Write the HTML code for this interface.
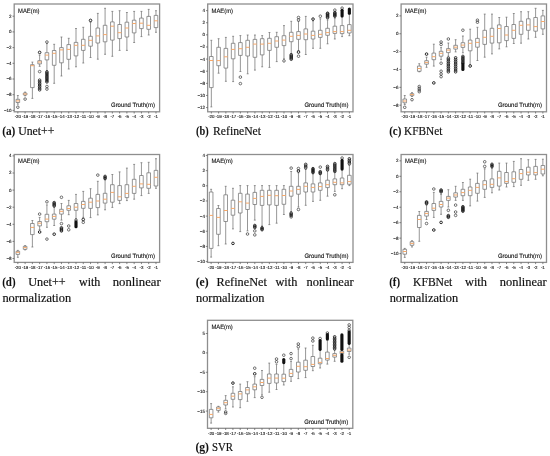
<!DOCTYPE html>
<html><head><meta charset="utf-8"><title>MAE boxplots</title>
<style>
html,body{margin:0;padding:0;background:#fff;}
body{width:550px;height:456px;overflow:hidden;}
svg{display:block;}
.fr{fill:none;stroke:#8e8e8e;stroke-width:1.3;}
.tk{stroke:#555;stroke-width:0.7;}
.yl{font-family:"Liberation Sans",Arial,sans-serif;font-size:4.5px;fill:#1a1a1a;stroke:#1a1a1a;stroke-width:0.12px;text-anchor:end;text-rendering:geometricPrecision;}
.xl{font-family:"Liberation Sans",Arial,sans-serif;font-size:4.4px;fill:#1a1a1a;stroke:#1a1a1a;stroke-width:0.12px;text-anchor:middle;text-rendering:geometricPrecision;}
.lb{font-family:"Liberation Sans",Arial,sans-serif;font-size:6.3px;fill:#111;stroke:#111;stroke-width:0.12px;text-rendering:geometricPrecision;}
.bx{fill:none;stroke:#6e6e6e;stroke-width:0.72;}
.md{fill:none;stroke:#f8a868;stroke-width:1.0;}
.oc{fill:none;stroke:#2a2a2a;stroke-width:0.65;}
.fc{fill:none;stroke:#1e1e1e;stroke-width:0.95;}
.rc{fill:none;stroke:#1a1a1a;stroke-width:0.85;}
.dc{fill:none;stroke:#111;stroke-width:3.15;stroke-linecap:round;}
.cp{font-family:"Liberation Serif","Times New Roman",serif;font-size:12px;fill:#111;stroke:#111;stroke-width:0.18px;}
.cp.b{stroke-width:0.05px;}
.cp.b{font-weight:bold;}
</style></head>
<body>
<svg width="550" height="456" viewBox="0 0 550 456">
<rect width="550" height="456" fill="#fff"/>
<rect x="14.2" y="4" width="145.4" height="107.8" class="fr"/>
<line x1="12.5" y1="16.2" x2="14.2" y2="16.2" class="tk"/>
<text x="11.6" y="17.65" class="yl">2</text>
<line x1="12.5" y1="31.9" x2="14.2" y2="31.9" class="tk"/>
<text x="11.6" y="33.35" class="yl">0</text>
<line x1="12.5" y1="47.6" x2="14.2" y2="47.6" class="tk"/>
<text x="11.6" y="49.05" class="yl">−2</text>
<line x1="12.5" y1="63.3" x2="14.2" y2="63.3" class="tk"/>
<text x="11.6" y="64.75" class="yl">−4</text>
<line x1="12.5" y1="79" x2="14.2" y2="79" class="tk"/>
<text x="11.6" y="80.45" class="yl">−6</text>
<line x1="12.5" y1="94.7" x2="14.2" y2="94.7" class="tk"/>
<text x="11.6" y="96.15" class="yl">−8</text>
<line x1="12.5" y1="110.4" x2="14.2" y2="110.4" class="tk"/>
<text x="11.6" y="111.85" class="yl">−10</text>
<line x1="17.84" y1="111.8" x2="17.84" y2="113.5" class="tk"/>
<text x="17.84" y="118" class="xl">-20</text>
<line x1="25.11" y1="111.8" x2="25.11" y2="113.5" class="tk"/>
<text x="25.11" y="118" class="xl">-19</text>
<line x1="32.38" y1="111.8" x2="32.38" y2="113.5" class="tk"/>
<text x="32.38" y="118" class="xl">-18</text>
<line x1="39.64" y1="111.8" x2="39.64" y2="113.5" class="tk"/>
<text x="39.64" y="118" class="xl">-17</text>
<line x1="46.92" y1="111.8" x2="46.92" y2="113.5" class="tk"/>
<text x="46.92" y="118" class="xl">-16</text>
<line x1="54.19" y1="111.8" x2="54.19" y2="113.5" class="tk"/>
<text x="54.19" y="118" class="xl">-15</text>
<line x1="61.45" y1="111.8" x2="61.45" y2="113.5" class="tk"/>
<text x="61.45" y="118" class="xl">-14</text>
<line x1="68.73" y1="111.8" x2="68.73" y2="113.5" class="tk"/>
<text x="68.73" y="118" class="xl">-13</text>
<line x1="76" y1="111.8" x2="76" y2="113.5" class="tk"/>
<text x="76" y="118" class="xl">-12</text>
<line x1="83.27" y1="111.8" x2="83.27" y2="113.5" class="tk"/>
<text x="83.27" y="118" class="xl">-11</text>
<line x1="90.54" y1="111.8" x2="90.54" y2="113.5" class="tk"/>
<text x="90.54" y="118" class="xl">-10</text>
<line x1="97.81" y1="111.8" x2="97.81" y2="113.5" class="tk"/>
<text x="97.81" y="118" class="xl">-9</text>
<line x1="105.08" y1="111.8" x2="105.08" y2="113.5" class="tk"/>
<text x="105.08" y="118" class="xl">-8</text>
<line x1="112.35" y1="111.8" x2="112.35" y2="113.5" class="tk"/>
<text x="112.35" y="118" class="xl">-7</text>
<line x1="119.62" y1="111.8" x2="119.62" y2="113.5" class="tk"/>
<text x="119.62" y="118" class="xl">-6</text>
<line x1="126.89" y1="111.8" x2="126.89" y2="113.5" class="tk"/>
<text x="126.89" y="118" class="xl">-5</text>
<line x1="134.16" y1="111.8" x2="134.16" y2="113.5" class="tk"/>
<text x="134.16" y="118" class="xl">-4</text>
<line x1="141.43" y1="111.8" x2="141.43" y2="113.5" class="tk"/>
<text x="141.43" y="118" class="xl">-3</text>
<line x1="148.69" y1="111.8" x2="148.69" y2="113.5" class="tk"/>
<text x="148.69" y="118" class="xl">-2</text>
<line x1="155.97" y1="111.8" x2="155.97" y2="113.5" class="tk"/>
<text x="155.97" y="118" class="xl">-1</text>
<text x="18.1" y="12.6" class="lb" textLength="21.4" lengthAdjust="spacingAndGlyphs">MAE(m)</text>
<text x="111" y="107.3" class="lb" textLength="44.0" lengthAdjust="spacingAndGlyphs">Ground Truth(m)</text>
<path d="M17.84 99.3V95.5M17.84 102.5V104.2M16.89 95.5H18.79M16.89 104.2H18.79M16.04 99.3H19.64V102.5H16.04Z" class="bx"/>
<path d="M16.04 100.9H19.64" class="md"/>
<circle cx="17.84" cy="107.2" r="1.3" class="oc"/>
<path d="M25.11 93V92.1M25.11 95V95.8M24.16 92.1H26.05M24.16 95.8H26.05M23.3 93H26.91V95H23.3Z" class="bx"/>
<path d="M23.3 94H26.91" class="md"/>
<circle cx="25.11" cy="99.1" r="1.3" class="oc"/>
<path d="M32.38 64.7V62.1M32.38 87.6V98.4M31.43 62.1H33.33M31.43 98.4H33.33M30.57 64.7H34.17V87.6H30.57Z" class="bx"/>
<path d="M30.57 65.7H34.17" class="md"/>
<path d="M39.64 60.7V55M39.64 63.9V66.3M38.69 55H40.59M38.69 66.3H40.59M37.84 60.7H41.44V63.9H37.84Z" class="bx"/>
<path d="M37.84 62H41.44" class="md"/>
<circle cx="39.64" cy="52.4" r="1.3" class="fc"/>
<circle cx="39.64" cy="71.6" r="1.3" class="oc"/>
<circle cx="39.64" cy="80.2" r="1.3" class="rc"/>
<circle cx="39.64" cy="81.8" r="1.3" class="rc"/>
<circle cx="39.64" cy="83.4" r="1.3" class="rc"/>
<circle cx="39.64" cy="85" r="1.3" class="rc"/>
<circle cx="39.64" cy="86.6" r="1.3" class="rc"/>
<circle cx="39.64" cy="88.2" r="1.3" class="rc"/>
<circle cx="39.64" cy="89.8" r="1.3" class="rc"/>
<path d="M46.92 52.7V43.6M46.92 59.9V70.7M45.97 43.6H47.87M45.97 70.7H47.87M45.12 52.7H48.72V59.9H45.12Z" class="bx"/>
<path d="M45.12 55.1H48.72" class="md"/>
<circle cx="46.92" cy="42" r="1.3" class="oc"/>
<circle cx="46.92" cy="71.9" r="1.3" class="rc"/>
<circle cx="46.92" cy="73.15" r="1.3" class="rc"/>
<circle cx="46.92" cy="74.4" r="1.3" class="rc"/>
<circle cx="46.92" cy="75.65" r="1.3" class="rc"/>
<circle cx="46.92" cy="76.9" r="1.3" class="rc"/>
<circle cx="46.92" cy="78.15" r="1.3" class="rc"/>
<circle cx="46.92" cy="79.4" r="1.3" class="rc"/>
<circle cx="46.92" cy="80.65" r="1.3" class="rc"/>
<circle cx="46.92" cy="81.9" r="1.3" class="rc"/>
<circle cx="46.92" cy="86.5" r="1.3" class="oc"/>
<circle cx="46.92" cy="89.1" r="1.3" class="oc"/>
<path d="M54.19 50.5V44.3M54.19 65.3V83.3M53.23 44.3H55.14M53.23 83.3H55.14M52.39 50.5H55.98V65.3H52.39Z" class="bx"/>
<path d="M52.39 53.3H55.98" class="md"/>
<path d="M61.45 47.6V37M61.45 62.8V76M60.5 37H62.41M60.5 76H62.41M59.66 47.6H63.25V62.8H59.66Z" class="bx"/>
<path d="M59.66 49.9H63.25" class="md"/>
<path d="M68.73 44.6V38.3M68.73 59.3V69M67.78 38.3H69.68M67.78 69H69.68M66.93 44.6H70.53V59.3H66.93Z" class="bx"/>
<path d="M66.93 49.4H70.53" class="md"/>
<path d="M76 42.4V28.5M76 55.9V66.8M75.05 28.5H76.95M75.05 66.8H76.95M74.2 42.4H77.8V55.9H74.2Z" class="bx"/>
<path d="M74.2 45.3H77.8" class="md"/>
<path d="M83.27 39.3V27.3M83.27 50.4V63M82.31 27.3H84.22M82.31 63H84.22M81.47 39.3H85.06V50.4H81.47Z" class="bx"/>
<path d="M81.47 45.3H85.06" class="md"/>
<path d="M90.54 36.3V22.2M90.54 46.2V57.5M89.59 22.2H91.49M89.59 57.5H91.49M88.74 36.3H92.34V46.2H88.74Z" class="bx"/>
<path d="M88.74 40.3H92.34" class="md"/>
<circle cx="90.54" cy="20.4" r="1.3" class="fc"/>
<path d="M97.81 28V13.4M97.81 43V59.2M96.86 13.4H98.76M96.86 59.2H98.76M96.01 28H99.61V43H96.01Z" class="bx"/>
<path d="M96.01 35.9H99.61" class="md"/>
<path d="M105.08 25.3V8.3M105.08 41.8V54.3M104.12 8.3H106.03M104.12 54.3H106.03M103.28 25.3H106.88V41.8H103.28Z" class="bx"/>
<path d="M103.28 34.6H106.88" class="md"/>
<path d="M112.35 21.9V11.4M112.35 40.1V56.3M111.4 11.4H113.3M111.4 56.3H113.3M110.55 21.9H114.15V40.1H110.55Z" class="bx"/>
<path d="M110.55 26.2H114.15" class="md"/>
<path d="M119.62 24.5V10.7M119.62 38.6V50.4M118.67 10.7H120.57M118.67 50.4H120.57M117.82 24.5H121.42V38.6H117.82Z" class="bx"/>
<path d="M117.82 32.7H121.42" class="md"/>
<path d="M126.89 22.2V12.5M126.89 37V50.4M125.94 12.5H127.84M125.94 50.4H127.84M125.09 22.2H128.69V37H125.09Z" class="bx"/>
<path d="M125.09 28H128.69" class="md"/>
<path d="M134.16 20.2V11.4M134.16 32.9V42.5M133.21 11.4H135.1M133.21 42.5H135.1M132.35 20.2H135.96V32.9H132.35Z" class="bx"/>
<path d="M132.35 23.5H135.96" class="md"/>
<path d="M141.43 18.1V11.4M141.43 28.6V36.6M140.48 11.4H142.38M140.48 36.6H142.38M139.62 18.1H143.23V28.6H139.62Z" class="bx"/>
<path d="M139.62 23.2H143.23" class="md"/>
<path d="M148.69 16.4V9.4M148.69 29.3V35M147.75 9.4H149.64M147.75 35H149.64M146.89 16.4H150.5V29.3H146.89Z" class="bx"/>
<path d="M146.89 25.3H150.5" class="md"/>
<path d="M155.97 15.4V10.7M155.97 27.6V32.3M155.02 10.7H156.91M155.02 32.3H156.91M154.16 15.4H157.77V27.6H154.16Z" class="bx"/>
<path d="M154.16 20.8H157.77" class="md"/>
<rect x="207.7" y="4" width="145.3" height="107.8" class="fr"/>
<line x1="206" y1="10.61" x2="207.7" y2="10.61" class="tk"/>
<text x="205.1" y="12.06" class="yl">4</text>
<line x1="206" y1="22.73" x2="207.7" y2="22.73" class="tk"/>
<text x="205.1" y="24.18" class="yl">2</text>
<line x1="206" y1="34.85" x2="207.7" y2="34.85" class="tk"/>
<text x="205.1" y="36.3" class="yl">0</text>
<line x1="206" y1="46.97" x2="207.7" y2="46.97" class="tk"/>
<text x="205.1" y="48.42" class="yl">−2</text>
<line x1="206" y1="59.09" x2="207.7" y2="59.09" class="tk"/>
<text x="205.1" y="60.54" class="yl">−4</text>
<line x1="206" y1="71.21" x2="207.7" y2="71.21" class="tk"/>
<text x="205.1" y="72.66" class="yl">−6</text>
<line x1="206" y1="83.33" x2="207.7" y2="83.33" class="tk"/>
<text x="205.1" y="84.78" class="yl">−8</text>
<line x1="206" y1="95.45" x2="207.7" y2="95.45" class="tk"/>
<text x="205.1" y="96.9" class="yl">−10</text>
<line x1="206" y1="107.57" x2="207.7" y2="107.57" class="tk"/>
<text x="205.1" y="109.02" class="yl">−12</text>
<line x1="211.33" y1="111.8" x2="211.33" y2="113.5" class="tk"/>
<text x="211.33" y="118" class="xl">-20</text>
<line x1="218.6" y1="111.8" x2="218.6" y2="113.5" class="tk"/>
<text x="218.6" y="118" class="xl">-19</text>
<line x1="225.86" y1="111.8" x2="225.86" y2="113.5" class="tk"/>
<text x="225.86" y="118" class="xl">-18</text>
<line x1="233.13" y1="111.8" x2="233.13" y2="113.5" class="tk"/>
<text x="233.13" y="118" class="xl">-17</text>
<line x1="240.39" y1="111.8" x2="240.39" y2="113.5" class="tk"/>
<text x="240.39" y="118" class="xl">-16</text>
<line x1="247.66" y1="111.8" x2="247.66" y2="113.5" class="tk"/>
<text x="247.66" y="118" class="xl">-15</text>
<line x1="254.92" y1="111.8" x2="254.92" y2="113.5" class="tk"/>
<text x="254.92" y="118" class="xl">-14</text>
<line x1="262.19" y1="111.8" x2="262.19" y2="113.5" class="tk"/>
<text x="262.19" y="118" class="xl">-13</text>
<line x1="269.45" y1="111.8" x2="269.45" y2="113.5" class="tk"/>
<text x="269.45" y="118" class="xl">-12</text>
<line x1="276.72" y1="111.8" x2="276.72" y2="113.5" class="tk"/>
<text x="276.72" y="118" class="xl">-11</text>
<line x1="283.98" y1="111.8" x2="283.98" y2="113.5" class="tk"/>
<text x="283.98" y="118" class="xl">-10</text>
<line x1="291.25" y1="111.8" x2="291.25" y2="113.5" class="tk"/>
<text x="291.25" y="118" class="xl">-9</text>
<line x1="298.51" y1="111.8" x2="298.51" y2="113.5" class="tk"/>
<text x="298.51" y="118" class="xl">-8</text>
<line x1="305.78" y1="111.8" x2="305.78" y2="113.5" class="tk"/>
<text x="305.78" y="118" class="xl">-7</text>
<line x1="313.04" y1="111.8" x2="313.04" y2="113.5" class="tk"/>
<text x="313.04" y="118" class="xl">-6</text>
<line x1="320.31" y1="111.8" x2="320.31" y2="113.5" class="tk"/>
<text x="320.31" y="118" class="xl">-5</text>
<line x1="327.57" y1="111.8" x2="327.57" y2="113.5" class="tk"/>
<text x="327.57" y="118" class="xl">-4</text>
<line x1="334.84" y1="111.8" x2="334.84" y2="113.5" class="tk"/>
<text x="334.84" y="118" class="xl">-3</text>
<line x1="342.1" y1="111.8" x2="342.1" y2="113.5" class="tk"/>
<text x="342.1" y="118" class="xl">-2</text>
<line x1="349.37" y1="111.8" x2="349.37" y2="113.5" class="tk"/>
<text x="349.37" y="118" class="xl">-1</text>
<text x="211.6" y="12.6" class="lb" textLength="21.4" lengthAdjust="spacingAndGlyphs">MAE(m)</text>
<text x="304.4" y="107.3" class="lb" textLength="44.0" lengthAdjust="spacingAndGlyphs">Ground Truth(m)</text>
<path d="M211.33 56.5V40.3M211.33 87.6V106.9M210.38 40.3H212.28M210.38 106.9H212.28M209.53 56.5H213.13V87.6H209.53Z" class="bx"/>
<path d="M209.53 60.5H213.13" class="md"/>
<path d="M218.6 47.3V38.7M218.6 65.7V73.2M217.65 38.7H219.55M217.65 73.2H219.55M216.8 47.3H220.4V65.7H216.8Z" class="bx"/>
<path d="M216.8 60.6H220.4" class="md"/>
<path d="M225.86 48.4V37.4M225.86 68.1V81.3M224.91 37.4H226.81M224.91 81.3H226.81M224.06 48.4H227.66V68.1H224.06Z" class="bx"/>
<path d="M224.06 56.8H227.66" class="md"/>
<path d="M233.13 43.3V36.3M233.13 58.8V81.6M232.18 36.3H234.08M232.18 81.6H234.08M231.33 43.3H234.93V58.8H231.33Z" class="bx"/>
<path d="M231.33 49.4H234.93" class="md"/>
<path d="M240.39 42.6V35.6M240.39 55.4V71.5M239.44 35.6H241.34M239.44 71.5H241.34M238.59 42.6H242.19V55.4H238.59Z" class="bx"/>
<path d="M238.59 48.7H242.19" class="md"/>
<circle cx="240.39" cy="77.1" r="1.3" class="oc"/>
<circle cx="240.39" cy="83.6" r="1.3" class="oc"/>
<path d="M247.66 40.3V35M247.66 56V73.8M246.71 35H248.61M246.71 73.8H248.61M245.86 40.3H249.46V56H245.86Z" class="bx"/>
<path d="M245.86 47.3H249.46" class="md"/>
<path d="M254.92 39.4V35M254.92 57.3V70.1M253.97 35H255.87M253.97 70.1H255.87M253.12 39.4H256.72V57.3H253.12Z" class="bx"/>
<path d="M253.12 44.1H256.72" class="md"/>
<path d="M262.19 38.7V35.6M262.19 54.9V66.8M261.24 35.6H263.14M261.24 66.8H263.14M260.39 38.7H263.99V54.9H260.39Z" class="bx"/>
<path d="M260.39 44.1H263.99" class="md"/>
<path d="M269.45 38.3V32.5M269.45 50.4V67.4M268.5 32.5H270.4M268.5 67.4H270.4M267.65 38.3H271.25V50.4H267.65Z" class="bx"/>
<path d="M267.65 43.3H271.25" class="md"/>
<path d="M276.72 36.7V32.3M276.72 47.3V61.6M275.77 32.3H277.67M275.77 61.6H277.67M274.92 36.7H278.52V47.3H274.92Z" class="bx"/>
<path d="M274.92 41H278.52" class="md"/>
<path d="M283.98 35.7V25.6M283.98 45.6V58.8M283.03 25.6H284.93M283.03 58.8H284.93M282.18 35.7H285.78V45.6H282.18Z" class="bx"/>
<path d="M282.18 40.1H285.78" class="md"/>
<circle cx="283.98" cy="60.9" r="1.3" class="oc"/>
<path d="M291.25 32.3V21.3M291.25 41.7V53.5M290.3 21.3H292.2M290.3 53.5H292.2M289.45 32.3H293.05V41.7H289.45Z" class="bx"/>
<path d="M289.45 36.3H293.05" class="md"/>
<circle cx="291.25" cy="54.8" r="1.3" class="rc"/>
<circle cx="291.25" cy="55.9" r="1.3" class="rc"/>
<circle cx="291.25" cy="57" r="1.3" class="rc"/>
<circle cx="291.25" cy="58.1" r="1.3" class="rc"/>
<circle cx="291.25" cy="59.2" r="1.3" class="rc"/>
<path d="M298.51 31.6V21.5M298.51 39.3V50.5M297.56 21.5H299.46M297.56 50.5H299.46M296.71 31.6H300.31V39.3H296.71Z" class="bx"/>
<path d="M296.71 35.4H300.31" class="md"/>
<circle cx="298.51" cy="17.5" r="1.3" class="oc"/>
<circle cx="298.51" cy="19.9" r="1.3" class="oc"/>
<circle cx="298.51" cy="52.1" r="1.3" class="fc"/>
<circle cx="298.51" cy="56.2" r="1.3" class="oc"/>
<path d="M305.78 28.9V16.4M305.78 39.7V54.5M304.83 16.4H306.73M304.83 54.5H306.73M303.98 28.9H307.58V39.7H303.98Z" class="bx"/>
<path d="M303.98 34H307.58" class="md"/>
<path d="M313.04 31.2V20.9M313.04 39V48.3M312.09 20.9H313.99M312.09 48.3H313.99M311.24 31.2H314.84V39H311.24Z" class="bx"/>
<path d="M311.24 35.4H314.84" class="md"/>
<circle cx="313.04" cy="19.1" r="1.3" class="fc"/>
<path d="M320.31 30.3V18.8M320.31 37.4V48.3M319.36 18.8H321.26M319.36 48.3H321.26M318.51 30.3H322.11V37.4H318.51Z" class="bx"/>
<path d="M318.51 34.3H322.11" class="md"/>
<circle cx="320.31" cy="16.2" r="1.3" class="oc"/>
<path d="M327.57 28.3V19.9M327.57 35.3V43.8M326.62 19.9H328.52M326.62 43.8H328.52M325.77 28.3H329.37V35.3H325.77Z" class="bx"/>
<path d="M325.77 32.6H329.37" class="md"/>
<circle cx="327.57" cy="13.2" r="1.3" class="oc"/>
<circle cx="327.57" cy="13.6" r="1.3" class="rc"/>
<circle cx="327.57" cy="14.6" r="1.3" class="rc"/>
<circle cx="327.57" cy="15.6" r="1.3" class="rc"/>
<circle cx="327.57" cy="16.6" r="1.3" class="rc"/>
<circle cx="327.57" cy="17.6" r="1.3" class="rc"/>
<path d="M334.84 26.2V18.2M334.84 33.4V39M333.89 18.2H335.79M333.89 39H335.79M333.04 26.2H336.64V33.4H333.04Z" class="bx"/>
<path d="M333.04 31.6H336.64" class="md"/>
<circle cx="334.84" cy="10.1" r="1.3" class="oc"/>
<circle cx="334.84" cy="12.6" r="1.3" class="rc"/>
<circle cx="334.84" cy="13.5" r="1.3" class="rc"/>
<circle cx="334.84" cy="14.4" r="1.3" class="rc"/>
<circle cx="334.84" cy="15.3" r="1.3" class="rc"/>
<circle cx="334.84" cy="16.2" r="1.3" class="rc"/>
<path d="M342.1 25.6V16.8M342.1 33.6V36.6M341.15 16.8H343.05M341.15 36.6H343.05M340.3 25.6H343.9V33.6H340.3Z" class="bx"/>
<path d="M340.3 31.6H343.9" class="md"/>
<circle cx="342.1" cy="8.1" r="1.3" class="oc"/>
<path d="M342.1 10.3V15.9" class="dc"/>
<path d="M349.37 24.6V14.1M349.37 33V35.7M348.42 14.1H350.32M348.42 35.7H350.32M347.57 24.6H351.17V33H347.57Z" class="bx"/>
<path d="M347.57 30.3H351.17" class="md"/>
<path d="M349.37 9V13.2" class="dc"/>
<rect x="401.1" y="4" width="145.4" height="107.8" class="fr"/>
<line x1="399.4" y1="15.89" x2="401.1" y2="15.89" class="tk"/>
<text x="398.5" y="17.34" class="yl">2</text>
<line x1="399.4" y1="33.75" x2="401.1" y2="33.75" class="tk"/>
<text x="398.5" y="35.2" class="yl">0</text>
<line x1="399.4" y1="51.61" x2="401.1" y2="51.61" class="tk"/>
<text x="398.5" y="53.06" class="yl">−2</text>
<line x1="399.4" y1="69.47" x2="401.1" y2="69.47" class="tk"/>
<text x="398.5" y="70.92" class="yl">−4</text>
<line x1="399.4" y1="87.33" x2="401.1" y2="87.33" class="tk"/>
<text x="398.5" y="88.78" class="yl">−6</text>
<line x1="399.4" y1="105.19" x2="401.1" y2="105.19" class="tk"/>
<text x="398.5" y="106.64" class="yl">−8</text>
<line x1="404.74" y1="111.8" x2="404.74" y2="113.5" class="tk"/>
<text x="404.74" y="118" class="xl">-20</text>
<line x1="412" y1="111.8" x2="412" y2="113.5" class="tk"/>
<text x="412" y="118" class="xl">-19</text>
<line x1="419.28" y1="111.8" x2="419.28" y2="113.5" class="tk"/>
<text x="419.28" y="118" class="xl">-18</text>
<line x1="426.55" y1="111.8" x2="426.55" y2="113.5" class="tk"/>
<text x="426.55" y="118" class="xl">-17</text>
<line x1="433.81" y1="111.8" x2="433.81" y2="113.5" class="tk"/>
<text x="433.81" y="118" class="xl">-16</text>
<line x1="441.09" y1="111.8" x2="441.09" y2="113.5" class="tk"/>
<text x="441.09" y="118" class="xl">-15</text>
<line x1="448.36" y1="111.8" x2="448.36" y2="113.5" class="tk"/>
<text x="448.36" y="118" class="xl">-14</text>
<line x1="455.62" y1="111.8" x2="455.62" y2="113.5" class="tk"/>
<text x="455.62" y="118" class="xl">-13</text>
<line x1="462.89" y1="111.8" x2="462.89" y2="113.5" class="tk"/>
<text x="462.89" y="118" class="xl">-12</text>
<line x1="470.17" y1="111.8" x2="470.17" y2="113.5" class="tk"/>
<text x="470.17" y="118" class="xl">-11</text>
<line x1="477.44" y1="111.8" x2="477.44" y2="113.5" class="tk"/>
<text x="477.44" y="118" class="xl">-10</text>
<line x1="484.71" y1="111.8" x2="484.71" y2="113.5" class="tk"/>
<text x="484.71" y="118" class="xl">-9</text>
<line x1="491.98" y1="111.8" x2="491.98" y2="113.5" class="tk"/>
<text x="491.98" y="118" class="xl">-8</text>
<line x1="499.25" y1="111.8" x2="499.25" y2="113.5" class="tk"/>
<text x="499.25" y="118" class="xl">-7</text>
<line x1="506.51" y1="111.8" x2="506.51" y2="113.5" class="tk"/>
<text x="506.51" y="118" class="xl">-6</text>
<line x1="513.78" y1="111.8" x2="513.78" y2="113.5" class="tk"/>
<text x="513.78" y="118" class="xl">-5</text>
<line x1="521.06" y1="111.8" x2="521.06" y2="113.5" class="tk"/>
<text x="521.06" y="118" class="xl">-4</text>
<line x1="528.33" y1="111.8" x2="528.33" y2="113.5" class="tk"/>
<text x="528.33" y="118" class="xl">-3</text>
<line x1="535.6" y1="111.8" x2="535.6" y2="113.5" class="tk"/>
<text x="535.6" y="118" class="xl">-2</text>
<line x1="542.87" y1="111.8" x2="542.87" y2="113.5" class="tk"/>
<text x="542.87" y="118" class="xl">-1</text>
<text x="405" y="12.6" class="lb" textLength="21.4" lengthAdjust="spacingAndGlyphs">MAE(m)</text>
<text x="497.9" y="107.3" class="lb" textLength="44.0" lengthAdjust="spacingAndGlyphs">Ground Truth(m)</text>
<path d="M404.74 99V95.5M404.74 102.8V104.5M403.79 95.5H405.69M403.79 104.5H405.69M402.94 99H406.54V102.8H402.94Z" class="bx"/>
<path d="M402.94 101H406.54" class="md"/>
<circle cx="404.74" cy="107.3" r="1.3" class="oc"/>
<path d="M412 93.7V92.6M412 95.7V96.5M411.06 92.6H412.95M411.06 96.5H412.95M410.2 93.7H413.81V95.7H410.2Z" class="bx"/>
<path d="M410.2 94.6H413.81" class="md"/>
<circle cx="412" cy="99.7" r="1.3" class="oc"/>
<path d="M419.28 66.1V63.7M419.28 71.3V71.8M418.33 63.7H420.23M418.33 71.8H420.23M417.48 66.1H421.08V71.3H417.48Z" class="bx"/>
<path d="M417.48 68.5H421.08" class="md"/>
<circle cx="419.28" cy="86.5" r="1.3" class="oc"/>
<circle cx="419.28" cy="88.3" r="1.3" class="oc"/>
<circle cx="419.28" cy="90" r="1.3" class="oc"/>
<circle cx="419.28" cy="91.7" r="1.3" class="oc"/>
<path d="M426.55 60.7V57.2M426.55 64.2V67.3M425.6 57.2H427.5M425.6 67.3H427.5M424.75 60.7H428.35V64.2H424.75Z" class="bx"/>
<path d="M424.75 62.4H428.35" class="md"/>
<circle cx="426.55" cy="54.1" r="1.3" class="fc"/>
<path d="M433.81 53.1V44.2M433.81 59.7V66.1M432.87 44.2H434.76M432.87 66.1H434.76M432.01 53.1H435.62V59.7H432.01Z" class="bx"/>
<path d="M432.01 56.7H435.62" class="md"/>
<circle cx="433.81" cy="82.9" r="1.3" class="fc"/>
<path d="M441.09 51.3V47.6M441.09 56.2V59.7M440.14 47.6H442.04M440.14 59.7H442.04M439.29 51.3H442.89V56.2H439.29Z" class="bx"/>
<path d="M439.29 53.3H442.89" class="md"/>
<circle cx="441.09" cy="42" r="1.3" class="oc"/>
<circle cx="441.09" cy="44.5" r="1.3" class="oc"/>
<circle cx="441.09" cy="63.2" r="1.3" class="oc"/>
<circle cx="441.09" cy="71.2" r="1.3" class="oc"/>
<circle cx="441.09" cy="74" r="1.3" class="oc"/>
<circle cx="441.09" cy="76.7" r="1.3" class="oc"/>
<path d="M448.36 48.6V43M448.36 52.6V56.2M447.41 43H449.31M447.41 56.2H449.31M446.56 48.6H450.16V52.6H446.56Z" class="bx"/>
<path d="M446.56 50.1H450.16" class="md"/>
<circle cx="448.36" cy="39" r="1.3" class="oc"/>
<circle cx="448.36" cy="58.2" r="1.3" class="rc"/>
<circle cx="448.36" cy="59.9" r="1.3" class="rc"/>
<circle cx="448.36" cy="61.6" r="1.3" class="rc"/>
<circle cx="448.36" cy="63.3" r="1.3" class="rc"/>
<circle cx="448.36" cy="65" r="1.3" class="rc"/>
<circle cx="448.36" cy="66.7" r="1.3" class="rc"/>
<circle cx="448.36" cy="68.4" r="1.3" class="rc"/>
<circle cx="448.36" cy="70.1" r="1.3" class="rc"/>
<circle cx="448.36" cy="71.8" r="1.3" class="rc"/>
<path d="M455.62 45.3V39.7M455.62 49.1V51.9M454.68 39.7H456.57M454.68 51.9H456.57M453.82 45.3H457.43V49.1H453.82Z" class="bx"/>
<path d="M453.82 47.2H457.43" class="md"/>
<circle cx="455.62" cy="57.8" r="1.3" class="rc"/>
<circle cx="455.62" cy="59.55" r="1.3" class="rc"/>
<circle cx="455.62" cy="61.3" r="1.3" class="rc"/>
<circle cx="455.62" cy="63.05" r="1.3" class="rc"/>
<circle cx="455.62" cy="64.8" r="1.3" class="rc"/>
<circle cx="455.62" cy="66.55" r="1.3" class="rc"/>
<circle cx="455.62" cy="68.3" r="1.3" class="rc"/>
<circle cx="455.62" cy="70.05" r="1.3" class="rc"/>
<circle cx="455.62" cy="71.8" r="1.3" class="rc"/>
<path d="M462.89 42.7V36M462.89 47.4V52.8M461.94 36H463.84M461.94 52.8H463.84M461.09 42.7H464.69V47.4H461.09Z" class="bx"/>
<path d="M461.09 45.1H464.69" class="md"/>
<circle cx="462.89" cy="30.2" r="1.3" class="oc"/>
<circle cx="462.89" cy="56.4" r="1.3" class="rc"/>
<circle cx="462.89" cy="57.72" r="1.3" class="rc"/>
<circle cx="462.89" cy="59.04" r="1.3" class="rc"/>
<circle cx="462.89" cy="60.36" r="1.3" class="rc"/>
<circle cx="462.89" cy="61.68" r="1.3" class="rc"/>
<circle cx="462.89" cy="63" r="1.3" class="rc"/>
<path d="M462.89 64V69.4" class="dc"/>
<path d="M470.17 40.1V29.2M470.17 50.8V64.5M469.22 29.2H471.12M469.22 64.5H471.12M468.37 40.1H471.97V50.8H468.37Z" class="bx"/>
<path d="M468.37 43.3H471.97" class="md"/>
<circle cx="470.17" cy="66" r="1.3" class="fc"/>
<path d="M477.44 38.4V27.3M477.44 47.2V60.5M476.49 27.3H478.38M476.49 60.5H478.38M475.63 38.4H479.24V47.2H475.63Z" class="bx"/>
<path d="M475.63 42.4H479.24" class="md"/>
<circle cx="477.44" cy="20.2" r="1.3" class="oc"/>
<circle cx="477.44" cy="22.2" r="1.3" class="oc"/>
<path d="M484.71 30.3V14.1M484.71 44.4V57.2M483.76 14.1H485.66M483.76 57.2H485.66M482.91 30.3H486.51V44.4H482.91Z" class="bx"/>
<path d="M482.91 37.3H486.51" class="md"/>
<path d="M491.98 28.3V14.1M491.98 43.1V53.9M491.03 14.1H492.93M491.03 53.9H492.93M490.18 28.3H493.78V43.1H490.18Z" class="bx"/>
<path d="M490.18 36.3H493.78" class="md"/>
<path d="M499.25 24.9V17.5M499.25 42.8V48.9M498.3 17.5H500.19M498.3 48.9H500.19M497.44 24.9H501.05V42.8H497.44Z" class="bx"/>
<path d="M497.44 28.5H501.05" class="md"/>
<path d="M506.51 26.5V17.2M506.51 40.6V46.8M505.56 17.2H507.46M505.56 46.8H507.46M504.71 26.5H508.31V40.6H504.71Z" class="bx"/>
<path d="M504.71 35H508.31" class="md"/>
<path d="M513.78 24.5V13.5M513.78 38.4V43.5M512.83 13.5H514.74M512.83 43.5H514.74M511.98 24.5H515.58V38.4H511.98Z" class="bx"/>
<path d="M511.98 30.3H515.58" class="md"/>
<path d="M521.06 21.3V11.7M521.06 34.3V43.2M520.11 11.7H522.01M520.11 43.2H522.01M519.26 21.3H522.86V34.3H519.26Z" class="bx"/>
<path d="M519.26 25.3H522.86" class="md"/>
<path d="M528.33 18.8V11.7M528.33 30.3V39M527.38 11.7H529.28M527.38 39H529.28M526.53 18.8H530.12V30.3H526.53Z" class="bx"/>
<path d="M526.53 24.9H530.12" class="md"/>
<path d="M535.6 17.5V8.3M535.6 31.2V37.3M534.64 8.3H536.55M534.64 37.3H536.55M533.8 17.5H537.39V31.2H533.8Z" class="bx"/>
<path d="M533.8 26.6H537.39" class="md"/>
<path d="M542.87 15.9V10.4M542.87 28.9V34.3M541.91 10.4H543.82M541.91 34.3H543.82M541.07 15.9H544.66V28.9H541.07Z" class="bx"/>
<path d="M541.07 21.5H544.66" class="md"/>
<rect x="14.2" y="154.5" width="145.4" height="107.9" class="fr"/>
<line x1="12.5" y1="155.9" x2="14.2" y2="155.9" class="tk"/>
<text x="11.6" y="157.35" class="yl">4</text>
<line x1="12.5" y1="173" x2="14.2" y2="173" class="tk"/>
<text x="11.6" y="174.45" class="yl">2</text>
<line x1="12.5" y1="190.1" x2="14.2" y2="190.1" class="tk"/>
<text x="11.6" y="191.55" class="yl">0</text>
<line x1="12.5" y1="207.2" x2="14.2" y2="207.2" class="tk"/>
<text x="11.6" y="208.65" class="yl">−2</text>
<line x1="12.5" y1="224.3" x2="14.2" y2="224.3" class="tk"/>
<text x="11.6" y="225.75" class="yl">−4</text>
<line x1="12.5" y1="241.4" x2="14.2" y2="241.4" class="tk"/>
<text x="11.6" y="242.85" class="yl">−6</text>
<line x1="12.5" y1="258.5" x2="14.2" y2="258.5" class="tk"/>
<text x="11.6" y="259.95" class="yl">−8</text>
<line x1="17.84" y1="262.4" x2="17.84" y2="264.1" class="tk"/>
<text x="17.84" y="268.6" class="xl">-20</text>
<line x1="25.11" y1="262.4" x2="25.11" y2="264.1" class="tk"/>
<text x="25.11" y="268.6" class="xl">-19</text>
<line x1="32.38" y1="262.4" x2="32.38" y2="264.1" class="tk"/>
<text x="32.38" y="268.6" class="xl">-18</text>
<line x1="39.64" y1="262.4" x2="39.64" y2="264.1" class="tk"/>
<text x="39.64" y="268.6" class="xl">-17</text>
<line x1="46.92" y1="262.4" x2="46.92" y2="264.1" class="tk"/>
<text x="46.92" y="268.6" class="xl">-16</text>
<line x1="54.19" y1="262.4" x2="54.19" y2="264.1" class="tk"/>
<text x="54.19" y="268.6" class="xl">-15</text>
<line x1="61.45" y1="262.4" x2="61.45" y2="264.1" class="tk"/>
<text x="61.45" y="268.6" class="xl">-14</text>
<line x1="68.73" y1="262.4" x2="68.73" y2="264.1" class="tk"/>
<text x="68.73" y="268.6" class="xl">-13</text>
<line x1="76" y1="262.4" x2="76" y2="264.1" class="tk"/>
<text x="76" y="268.6" class="xl">-12</text>
<line x1="83.27" y1="262.4" x2="83.27" y2="264.1" class="tk"/>
<text x="83.27" y="268.6" class="xl">-11</text>
<line x1="90.54" y1="262.4" x2="90.54" y2="264.1" class="tk"/>
<text x="90.54" y="268.6" class="xl">-10</text>
<line x1="97.81" y1="262.4" x2="97.81" y2="264.1" class="tk"/>
<text x="97.81" y="268.6" class="xl">-9</text>
<line x1="105.08" y1="262.4" x2="105.08" y2="264.1" class="tk"/>
<text x="105.08" y="268.6" class="xl">-8</text>
<line x1="112.35" y1="262.4" x2="112.35" y2="264.1" class="tk"/>
<text x="112.35" y="268.6" class="xl">-7</text>
<line x1="119.62" y1="262.4" x2="119.62" y2="264.1" class="tk"/>
<text x="119.62" y="268.6" class="xl">-6</text>
<line x1="126.89" y1="262.4" x2="126.89" y2="264.1" class="tk"/>
<text x="126.89" y="268.6" class="xl">-5</text>
<line x1="134.16" y1="262.4" x2="134.16" y2="264.1" class="tk"/>
<text x="134.16" y="268.6" class="xl">-4</text>
<line x1="141.43" y1="262.4" x2="141.43" y2="264.1" class="tk"/>
<text x="141.43" y="268.6" class="xl">-3</text>
<line x1="148.69" y1="262.4" x2="148.69" y2="264.1" class="tk"/>
<text x="148.69" y="268.6" class="xl">-2</text>
<line x1="155.97" y1="262.4" x2="155.97" y2="264.1" class="tk"/>
<text x="155.97" y="268.6" class="xl">-1</text>
<text x="18.1" y="163.1" class="lb" textLength="21.4" lengthAdjust="spacingAndGlyphs">MAE(m)</text>
<text x="111" y="257.9" class="lb" textLength="44.0" lengthAdjust="spacingAndGlyphs">Ground Truth(m)</text>
<path d="M17.84 251.3V250.4M17.84 254.4V257.3M16.89 250.4H18.79M16.89 257.3H18.79M16.04 251.3H19.64V254.4H16.04Z" class="bx"/>
<path d="M16.04 252.3H19.64" class="md"/>
<path d="M25.11 246.3V245.6M25.11 249.3V249.9M24.16 245.6H26.05M24.16 249.9H26.05M23.3 246.3H26.91V249.3H23.3Z" class="bx"/>
<path d="M23.3 247.6H26.91" class="md"/>
<path d="M32.38 223.5V220.5M32.38 234.6V247M31.43 220.5H33.33M31.43 247H33.33M30.57 223.5H34.17V234.6H30.57Z" class="bx"/>
<path d="M30.57 227.4H34.17" class="md"/>
<path d="M39.64 221.5V217.4M39.64 225.9V229.6M38.69 217.4H40.59M38.69 229.6H40.59M37.84 221.5H41.44V225.9H37.84Z" class="bx"/>
<path d="M37.84 223.2H41.44" class="md"/>
<circle cx="39.64" cy="214.1" r="1.3" class="oc"/>
<circle cx="39.64" cy="232" r="1.3" class="fc"/>
<path d="M46.92 214.3V204.9M46.92 221.7V227.3M45.97 204.9H47.87M45.97 227.3H47.87M45.12 214.3H48.72V221.7H45.12Z" class="bx"/>
<path d="M45.12 219.1H48.72" class="md"/>
<circle cx="46.92" cy="201.8" r="1.3" class="oc"/>
<circle cx="46.92" cy="239.1" r="1.3" class="oc"/>
<path d="M54.19 214.1V207.2M54.19 219.2V225.5M53.23 207.2H55.14M53.23 225.5H55.14M52.39 214.1H55.98V219.2H52.39Z" class="bx"/>
<path d="M52.39 216.4H55.98" class="md"/>
<circle cx="54.19" cy="202.6" r="1.3" class="rc"/>
<circle cx="54.19" cy="203.7" r="1.3" class="rc"/>
<circle cx="54.19" cy="204.8" r="1.3" class="rc"/>
<circle cx="54.19" cy="205.9" r="1.3" class="rc"/>
<circle cx="54.19" cy="234.2" r="1.3" class="fc"/>
<path d="M61.45 209.3V203.5M61.45 214.1V220.1M60.5 203.5H62.41M60.5 220.1H62.41M59.66 209.3H63.25V214.1H59.66Z" class="bx"/>
<path d="M59.66 211.3H63.25" class="md"/>
<circle cx="61.45" cy="197.3" r="1.3" class="oc"/>
<circle cx="61.45" cy="223.6" r="1.3" class="oc"/>
<circle cx="61.45" cy="227.8" r="1.3" class="rc"/>
<circle cx="61.45" cy="228.85" r="1.3" class="rc"/>
<circle cx="61.45" cy="229.9" r="1.3" class="rc"/>
<circle cx="61.45" cy="230.95" r="1.3" class="rc"/>
<path d="M68.73 205.8V200.4M68.73 210.3V214.7M67.78 200.4H69.68M67.78 214.7H69.68M66.93 205.8H70.53V210.3H66.93Z" class="bx"/>
<path d="M66.93 208.5H70.53" class="md"/>
<circle cx="68.73" cy="226" r="1.3" class="oc"/>
<circle cx="68.73" cy="229.8" r="1.3" class="oc"/>
<path d="M76 203.5V194.4M76 210.3V218.8M75.05 194.4H76.95M75.05 218.8H76.95M74.2 203.5H77.8V210.3H74.2Z" class="bx"/>
<path d="M74.2 207.2H77.8" class="md"/>
<circle cx="76" cy="220.1" r="1.3" class="oc"/>
<path d="M76 221.8V226.7" class="dc"/>
<path d="M83.27 201.4V191.4M83.27 208.3V217.4M82.31 191.4H84.22M82.31 217.4H84.22M81.47 201.4H85.06V208.3H81.47Z" class="bx"/>
<path d="M81.47 204.5H85.06" class="md"/>
<circle cx="83.27" cy="219.5" r="1.3" class="fc"/>
<circle cx="83.27" cy="222.3" r="1.3" class="oc"/>
<path d="M90.54 198.2V188.7M90.54 208.4V217.6M89.59 188.7H91.49M89.59 217.6H91.49M88.74 198.2H92.34V208.4H88.74Z" class="bx"/>
<path d="M88.74 202.2H92.34" class="md"/>
<path d="M97.81 194.4V181.3M97.81 207.6V214.9M96.86 181.3H98.76M96.86 214.9H98.76M96.01 194.4H99.61V207.6H96.01Z" class="bx"/>
<path d="M96.01 201H99.61" class="md"/>
<circle cx="97.81" cy="175.1" r="1.3" class="oc"/>
<path d="M105.08 193.3V179.6M105.08 203.1V209.8M104.12 179.6H106.03M104.12 209.8H106.03M103.28 193.3H106.88V203.1H103.28Z" class="bx"/>
<path d="M103.28 199.2H106.88" class="md"/>
<circle cx="105.08" cy="176.4" r="1.3" class="rc"/>
<circle cx="105.08" cy="177.5" r="1.3" class="rc"/>
<circle cx="105.08" cy="178.6" r="1.3" class="rc"/>
<path d="M112.35 184.7V174.5M112.35 202.2V207.4M111.4 174.5H113.3M111.4 207.4H113.3M110.55 184.7H114.15V202.2H110.55Z" class="bx"/>
<path d="M110.55 192.4H114.15" class="md"/>
<path d="M119.62 185.6V171.9M119.62 200.4V203.6M118.67 171.9H120.57M118.67 203.6H120.57M117.82 185.6H121.42V200.4H117.82Z" class="bx"/>
<path d="M117.82 196.8H121.42" class="md"/>
<path d="M126.89 184.7V168.1M126.89 197.6V200.6M125.94 168.1H127.84M125.94 200.6H127.84M125.09 184.7H128.69V197.6H125.09Z" class="bx"/>
<path d="M125.09 193.4H128.69" class="md"/>
<path d="M134.16 179.3V164.4M134.16 193.4V199.2M133.21 164.4H135.1M133.21 199.2H135.1M132.35 179.3H135.96V193.4H132.35Z" class="bx"/>
<path d="M132.35 186.3H135.96" class="md"/>
<path d="M141.43 175.5V162.7M141.43 187.9V195.6M140.48 162.7H142.38M140.48 195.6H142.38M139.62 175.5H143.23V187.9H139.62Z" class="bx"/>
<path d="M139.62 183.9H143.23" class="md"/>
<path d="M148.69 172.8V162.3M148.69 188.3V193.4M147.75 162.3H149.64M147.75 193.4H149.64M146.89 172.8H150.5V188.3H146.89Z" class="bx"/>
<path d="M146.89 184.3H150.5" class="md"/>
<path d="M155.97 170.4V158.7M155.97 186V188.3M155.02 158.7H156.91M155.02 188.3H156.91M154.16 170.4H157.77V186H154.16Z" class="bx"/>
<path d="M154.16 177.3H157.77" class="md"/>
<rect x="207.5" y="154.5" width="145.5" height="107.9" class="fr"/>
<line x1="205.8" y1="155.48" x2="207.5" y2="155.48" class="tk"/>
<text x="204.9" y="156.93" class="yl">4</text>
<line x1="205.8" y1="170.64" x2="207.5" y2="170.64" class="tk"/>
<text x="204.9" y="172.09" class="yl">2</text>
<line x1="205.8" y1="185.8" x2="207.5" y2="185.8" class="tk"/>
<text x="204.9" y="187.25" class="yl">0</text>
<line x1="205.8" y1="200.96" x2="207.5" y2="200.96" class="tk"/>
<text x="204.9" y="202.41" class="yl">−2</text>
<line x1="205.8" y1="216.12" x2="207.5" y2="216.12" class="tk"/>
<text x="204.9" y="217.57" class="yl">−4</text>
<line x1="205.8" y1="231.28" x2="207.5" y2="231.28" class="tk"/>
<text x="204.9" y="232.73" class="yl">−6</text>
<line x1="205.8" y1="246.44" x2="207.5" y2="246.44" class="tk"/>
<text x="204.9" y="247.89" class="yl">−8</text>
<line x1="205.8" y1="261.6" x2="207.5" y2="261.6" class="tk"/>
<text x="204.9" y="263.05" class="yl">−10</text>
<line x1="211.14" y1="262.4" x2="211.14" y2="264.1" class="tk"/>
<text x="211.14" y="268.6" class="xl">-20</text>
<line x1="218.41" y1="262.4" x2="218.41" y2="264.1" class="tk"/>
<text x="218.41" y="268.6" class="xl">-19</text>
<line x1="225.69" y1="262.4" x2="225.69" y2="264.1" class="tk"/>
<text x="225.69" y="268.6" class="xl">-18</text>
<line x1="232.96" y1="262.4" x2="232.96" y2="264.1" class="tk"/>
<text x="232.96" y="268.6" class="xl">-17</text>
<line x1="240.24" y1="262.4" x2="240.24" y2="264.1" class="tk"/>
<text x="240.24" y="268.6" class="xl">-16</text>
<line x1="247.51" y1="262.4" x2="247.51" y2="264.1" class="tk"/>
<text x="247.51" y="268.6" class="xl">-15</text>
<line x1="254.79" y1="262.4" x2="254.79" y2="264.1" class="tk"/>
<text x="254.79" y="268.6" class="xl">-14</text>
<line x1="262.06" y1="262.4" x2="262.06" y2="264.1" class="tk"/>
<text x="262.06" y="268.6" class="xl">-13</text>
<line x1="269.34" y1="262.4" x2="269.34" y2="264.1" class="tk"/>
<text x="269.34" y="268.6" class="xl">-12</text>
<line x1="276.61" y1="262.4" x2="276.61" y2="264.1" class="tk"/>
<text x="276.61" y="268.6" class="xl">-11</text>
<line x1="283.89" y1="262.4" x2="283.89" y2="264.1" class="tk"/>
<text x="283.89" y="268.6" class="xl">-10</text>
<line x1="291.16" y1="262.4" x2="291.16" y2="264.1" class="tk"/>
<text x="291.16" y="268.6" class="xl">-9</text>
<line x1="298.44" y1="262.4" x2="298.44" y2="264.1" class="tk"/>
<text x="298.44" y="268.6" class="xl">-8</text>
<line x1="305.71" y1="262.4" x2="305.71" y2="264.1" class="tk"/>
<text x="305.71" y="268.6" class="xl">-7</text>
<line x1="312.99" y1="262.4" x2="312.99" y2="264.1" class="tk"/>
<text x="312.99" y="268.6" class="xl">-6</text>
<line x1="320.26" y1="262.4" x2="320.26" y2="264.1" class="tk"/>
<text x="320.26" y="268.6" class="xl">-5</text>
<line x1="327.54" y1="262.4" x2="327.54" y2="264.1" class="tk"/>
<text x="327.54" y="268.6" class="xl">-4</text>
<line x1="334.81" y1="262.4" x2="334.81" y2="264.1" class="tk"/>
<text x="334.81" y="268.6" class="xl">-3</text>
<line x1="342.09" y1="262.4" x2="342.09" y2="264.1" class="tk"/>
<text x="342.09" y="268.6" class="xl">-2</text>
<line x1="349.36" y1="262.4" x2="349.36" y2="264.1" class="tk"/>
<text x="349.36" y="268.6" class="xl">-1</text>
<text x="211.4" y="163.1" class="lb" textLength="21.4" lengthAdjust="spacingAndGlyphs">MAE(m)</text>
<text x="304.4" y="257.9" class="lb" textLength="44.0" lengthAdjust="spacingAndGlyphs">Ground Truth(m)</text>
<path d="M211.14 192V189.3M211.14 248.4V257.1M210.19 189.3H212.09M210.19 257.1H212.09M209.34 192H212.94V248.4H209.34Z" class="bx"/>
<path d="M209.34 215.4H212.94" class="md"/>
<path d="M218.41 208.5V205.5M218.41 234.3V245.7M217.46 205.5H219.36M217.46 245.7H219.36M216.61 208.5H220.21V234.3H216.61Z" class="bx"/>
<path d="M216.61 217.4H220.21" class="md"/>
<path d="M225.69 194.8V186.3M225.69 221.5V244M224.74 186.3H226.64M224.74 244H226.64M223.89 194.8H227.49V221.5H223.89Z" class="bx"/>
<path d="M223.89 210.5H227.49" class="md"/>
<path d="M232.96 200.2V188.3M232.96 215.2V228.9M232.01 188.3H233.91M232.01 228.9H233.91M231.16 200.2H234.76V215.2H231.16Z" class="bx"/>
<path d="M231.16 208.4H234.76" class="md"/>
<circle cx="232.96" cy="243.4" r="1.3" class="fc"/>
<path d="M240.24 193.3V185.6M240.24 213V231.6M239.29 185.6H241.19M239.29 231.6H241.19M238.44 193.3H242.04V213H238.44Z" class="bx"/>
<path d="M238.44 201.8H242.04" class="md"/>
<path d="M247.51 194.1V185.6M247.51 209.5V230.9M246.56 185.6H248.46M246.56 230.9H248.46M245.71 194.1H249.31V209.5H245.71Z" class="bx"/>
<path d="M245.71 203.1H249.31" class="md"/>
<circle cx="247.51" cy="234" r="1.3" class="oc"/>
<path d="M254.79 192.4V185.6M254.79 204.5V220.1M253.84 185.6H255.74M253.84 220.1H255.74M252.99 192.4H256.59V204.5H252.99Z" class="bx"/>
<path d="M252.99 198.4H256.59" class="md"/>
<circle cx="254.79" cy="225.5" r="1.3" class="rc"/>
<circle cx="254.79" cy="226.5" r="1.3" class="rc"/>
<circle cx="254.79" cy="227.5" r="1.3" class="rc"/>
<circle cx="254.79" cy="230.9" r="1.3" class="oc"/>
<circle cx="254.79" cy="234.9" r="1.3" class="oc"/>
<path d="M262.06 190.3V185.6M262.06 205.4V226M261.11 185.6H263.01M261.11 226H263.01M260.26 190.3H263.86V205.4H260.26Z" class="bx"/>
<path d="M260.26 196.4H263.86" class="md"/>
<circle cx="262.06" cy="227.8" r="1.3" class="rc"/>
<circle cx="262.06" cy="228.75" r="1.3" class="rc"/>
<circle cx="262.06" cy="229.7" r="1.3" class="rc"/>
<path d="M269.34 190.3V185.6M269.34 204.9V224.6M268.39 185.6H270.29M268.39 224.6H270.29M267.54 190.3H271.14V204.9H267.54Z" class="bx"/>
<path d="M267.54 195.3H271.14" class="md"/>
<path d="M276.61 190.3V185.6M276.61 205.4V223.2M275.66 185.6H277.56M275.66 223.2H277.56M274.81 190.3H278.41V205.4H274.81Z" class="bx"/>
<path d="M274.81 195.7H278.41" class="md"/>
<path d="M283.89 189.3V185.6M283.89 204.3V214.5M282.94 185.6H284.84M282.94 214.5H284.84M282.09 189.3H285.69V204.3H282.09Z" class="bx"/>
<path d="M282.09 195.5H285.69" class="md"/>
<path d="M291.16 186.3V171.5M291.16 196.2V211.5M290.21 171.5H292.11M290.21 211.5H292.11M289.36 186.3H292.96V196.2H289.36Z" class="bx"/>
<path d="M289.36 191H292.96" class="md"/>
<circle cx="291.16" cy="168.1" r="1.3" class="oc"/>
<circle cx="291.16" cy="213.2" r="1.3" class="rc"/>
<circle cx="291.16" cy="214.35" r="1.3" class="rc"/>
<circle cx="291.16" cy="215.5" r="1.3" class="rc"/>
<circle cx="291.16" cy="216.9" r="1.3" class="oc"/>
<path d="M298.44 186.3V172.8M298.44 194.2V207M297.49 172.8H299.39M297.49 207H299.39M296.64 186.3H300.24V194.2H296.64Z" class="bx"/>
<path d="M296.64 189.4H300.24" class="md"/>
<circle cx="298.44" cy="168.5" r="1.3" class="oc"/>
<circle cx="298.44" cy="171" r="1.3" class="fc"/>
<circle cx="298.44" cy="209.5" r="1.3" class="oc"/>
<path d="M305.71 182.9V169.5M305.71 192V205.3M304.76 169.5H306.66M304.76 205.3H306.66M303.91 182.9H307.51V192H303.91Z" class="bx"/>
<path d="M303.91 186.3H307.51" class="md"/>
<circle cx="305.71" cy="164.4" r="1.3" class="rc"/>
<circle cx="305.71" cy="166.07" r="1.3" class="rc"/>
<circle cx="305.71" cy="167.74" r="1.3" class="rc"/>
<path d="M312.99 183.9V172.8M312.99 192V201.4M312.04 172.8H313.94M312.04 201.4H313.94M311.19 183.9H314.79V192H311.19Z" class="bx"/>
<path d="M311.19 187.4H314.79" class="md"/>
<circle cx="312.99" cy="168.6" r="1.3" class="rc"/>
<circle cx="312.99" cy="169.6" r="1.3" class="rc"/>
<circle cx="312.99" cy="170.6" r="1.3" class="rc"/>
<circle cx="312.99" cy="171.6" r="1.3" class="rc"/>
<circle cx="312.99" cy="172.6" r="1.3" class="rc"/>
<path d="M320.26 182.9V174.2M320.26 190.3V200.3M319.31 174.2H321.21M319.31 200.3H321.21M318.46 182.9H322.06V190.3H318.46Z" class="bx"/>
<path d="M318.46 186.6H322.06" class="md"/>
<circle cx="320.26" cy="167.1" r="1.3" class="oc"/>
<circle cx="320.26" cy="171.7" r="1.3" class="rc"/>
<circle cx="320.26" cy="172.6" r="1.3" class="rc"/>
<circle cx="320.26" cy="173.5" r="1.3" class="rc"/>
<path d="M327.54 180.2V170.8M327.54 187.6V196.2M326.59 170.8H328.49M326.59 196.2H328.49M325.74 180.2H329.34V187.6H325.74Z" class="bx"/>
<path d="M325.74 184.7H329.34" class="md"/>
<circle cx="327.54" cy="166.4" r="1.3" class="rc"/>
<circle cx="327.54" cy="168.1" r="1.3" class="rc"/>
<circle cx="327.54" cy="169.8" r="1.3" class="rc"/>
<path d="M334.81 178.9V171.5M334.81 184.7V191.4M333.86 171.5H335.76M333.86 191.4H335.76M333.01 178.9H336.61V184.7H333.01Z" class="bx"/>
<path d="M333.01 182.3H336.61" class="md"/>
<circle cx="334.81" cy="163.6" r="1.3" class="rc"/>
<circle cx="334.81" cy="164.9" r="1.3" class="rc"/>
<circle cx="334.81" cy="166.2" r="1.3" class="rc"/>
<circle cx="334.81" cy="167.5" r="1.3" class="rc"/>
<circle cx="334.81" cy="168.8" r="1.3" class="rc"/>
<circle cx="334.81" cy="170.1" r="1.3" class="rc"/>
<circle cx="334.81" cy="171.4" r="1.3" class="rc"/>
<circle cx="334.81" cy="194.8" r="1.3" class="oc"/>
<path d="M342.09 178V170.2M342.09 184.7V188.7M341.14 170.2H343.04M341.14 188.7H343.04M340.29 178H343.89V184.7H340.29Z" class="bx"/>
<path d="M340.29 182.9H343.89" class="md"/>
<circle cx="342.09" cy="158" r="1.3" class="oc"/>
<path d="M342.09 160.4V169" class="dc"/>
<path d="M349.36 175.3V165.4M349.36 184.3V185.6M348.41 165.4H350.31M348.41 185.6H350.31M347.56 175.3H351.16V184.3H347.56Z" class="bx"/>
<path d="M347.56 181.6H351.16" class="md"/>
<circle cx="349.36" cy="158.8" r="1.3" class="rc"/>
<circle cx="349.36" cy="160.4" r="1.3" class="rc"/>
<circle cx="349.36" cy="162" r="1.3" class="rc"/>
<circle cx="349.36" cy="163.6" r="1.3" class="rc"/>
<rect x="401.1" y="154.5" width="145.4" height="107.9" class="fr"/>
<line x1="399.4" y1="160.84" x2="401.1" y2="160.84" class="tk"/>
<text x="398.5" y="162.29" class="yl">2</text>
<line x1="399.4" y1="176.3" x2="401.1" y2="176.3" class="tk"/>
<text x="398.5" y="177.75" class="yl">0</text>
<line x1="399.4" y1="191.76" x2="401.1" y2="191.76" class="tk"/>
<text x="398.5" y="193.21" class="yl">−2</text>
<line x1="399.4" y1="207.22" x2="401.1" y2="207.22" class="tk"/>
<text x="398.5" y="208.67" class="yl">−4</text>
<line x1="399.4" y1="222.68" x2="401.1" y2="222.68" class="tk"/>
<text x="398.5" y="224.13" class="yl">−6</text>
<line x1="399.4" y1="238.14" x2="401.1" y2="238.14" class="tk"/>
<text x="398.5" y="239.59" class="yl">−8</text>
<line x1="399.4" y1="253.6" x2="401.1" y2="253.6" class="tk"/>
<text x="398.5" y="255.05" class="yl">−10</text>
<line x1="404.74" y1="262.4" x2="404.74" y2="264.1" class="tk"/>
<text x="404.74" y="268.6" class="xl">-20</text>
<line x1="412" y1="262.4" x2="412" y2="264.1" class="tk"/>
<text x="412" y="268.6" class="xl">-19</text>
<line x1="419.28" y1="262.4" x2="419.28" y2="264.1" class="tk"/>
<text x="419.28" y="268.6" class="xl">-18</text>
<line x1="426.55" y1="262.4" x2="426.55" y2="264.1" class="tk"/>
<text x="426.55" y="268.6" class="xl">-17</text>
<line x1="433.81" y1="262.4" x2="433.81" y2="264.1" class="tk"/>
<text x="433.81" y="268.6" class="xl">-16</text>
<line x1="441.09" y1="262.4" x2="441.09" y2="264.1" class="tk"/>
<text x="441.09" y="268.6" class="xl">-15</text>
<line x1="448.36" y1="262.4" x2="448.36" y2="264.1" class="tk"/>
<text x="448.36" y="268.6" class="xl">-14</text>
<line x1="455.62" y1="262.4" x2="455.62" y2="264.1" class="tk"/>
<text x="455.62" y="268.6" class="xl">-13</text>
<line x1="462.89" y1="262.4" x2="462.89" y2="264.1" class="tk"/>
<text x="462.89" y="268.6" class="xl">-12</text>
<line x1="470.17" y1="262.4" x2="470.17" y2="264.1" class="tk"/>
<text x="470.17" y="268.6" class="xl">-11</text>
<line x1="477.44" y1="262.4" x2="477.44" y2="264.1" class="tk"/>
<text x="477.44" y="268.6" class="xl">-10</text>
<line x1="484.71" y1="262.4" x2="484.71" y2="264.1" class="tk"/>
<text x="484.71" y="268.6" class="xl">-9</text>
<line x1="491.98" y1="262.4" x2="491.98" y2="264.1" class="tk"/>
<text x="491.98" y="268.6" class="xl">-8</text>
<line x1="499.25" y1="262.4" x2="499.25" y2="264.1" class="tk"/>
<text x="499.25" y="268.6" class="xl">-7</text>
<line x1="506.51" y1="262.4" x2="506.51" y2="264.1" class="tk"/>
<text x="506.51" y="268.6" class="xl">-6</text>
<line x1="513.78" y1="262.4" x2="513.78" y2="264.1" class="tk"/>
<text x="513.78" y="268.6" class="xl">-5</text>
<line x1="521.06" y1="262.4" x2="521.06" y2="264.1" class="tk"/>
<text x="521.06" y="268.6" class="xl">-4</text>
<line x1="528.33" y1="262.4" x2="528.33" y2="264.1" class="tk"/>
<text x="528.33" y="268.6" class="xl">-3</text>
<line x1="535.6" y1="262.4" x2="535.6" y2="264.1" class="tk"/>
<text x="535.6" y="268.6" class="xl">-2</text>
<line x1="542.87" y1="262.4" x2="542.87" y2="264.1" class="tk"/>
<text x="542.87" y="268.6" class="xl">-1</text>
<text x="405" y="163.1" class="lb" textLength="21.4" lengthAdjust="spacingAndGlyphs">MAE(m)</text>
<text x="497.9" y="257.9" class="lb" textLength="44.0" lengthAdjust="spacingAndGlyphs">Ground Truth(m)</text>
<path d="M404.74 249.3V248.4M404.74 254.2V257.4M403.79 248.4H405.69M403.79 257.4H405.69M402.94 249.3H406.54V254.2H402.94Z" class="bx"/>
<path d="M402.94 251.5H406.54" class="md"/>
<path d="M412 241.7V240.7M412 245.3V247M411.06 240.7H412.95M411.06 247H412.95M410.2 241.7H413.81V245.3H410.2Z" class="bx"/>
<path d="M410.2 243.4H413.81" class="md"/>
<path d="M419.28 215.4V211.5M419.28 227.5V241.3M418.33 211.5H420.23M418.33 241.3H420.23M417.48 215.4H421.08V227.5H417.48Z" class="bx"/>
<path d="M417.48 219.5H421.08" class="md"/>
<path d="M426.55 211.4V205.1M426.55 216.1V219.5M425.6 205.1H427.5M425.6 219.5H427.5M424.75 211.4H428.35V216.1H424.75Z" class="bx"/>
<path d="M424.75 213.4H428.35" class="md"/>
<circle cx="426.55" cy="201.9" r="1.3" class="rc"/>
<circle cx="426.55" cy="202.7" r="1.3" class="rc"/>
<circle cx="426.55" cy="203.5" r="1.3" class="rc"/>
<circle cx="426.55" cy="223.5" r="1.3" class="oc"/>
<path d="M433.81 203.5V192.4M433.81 210.4V217.4M432.87 192.4H434.76M432.87 217.4H434.76M432.01 203.5H435.62V210.4H432.01Z" class="bx"/>
<path d="M432.01 208.2H435.62" class="md"/>
<circle cx="433.81" cy="189" r="1.3" class="oc"/>
<circle cx="433.81" cy="230" r="1.3" class="fc"/>
<path d="M441.09 201.4V194.4M441.09 207V214.3M440.14 194.4H442.04M440.14 214.3H442.04M439.29 201.4H442.89V207H439.29Z" class="bx"/>
<path d="M439.29 204.5H442.89" class="md"/>
<circle cx="441.09" cy="190" r="1.3" class="rc"/>
<circle cx="441.09" cy="190.95" r="1.3" class="rc"/>
<circle cx="441.09" cy="191.9" r="1.3" class="rc"/>
<circle cx="441.09" cy="222.4" r="1.3" class="fc"/>
<path d="M448.36 196.4V189.7M448.36 200.4V207M447.41 189.7H449.31M447.41 207H449.31M446.56 196.4H450.16V200.4H446.56Z" class="bx"/>
<path d="M446.56 198.1H450.16" class="md"/>
<circle cx="448.36" cy="210.3" r="1.3" class="oc"/>
<circle cx="448.36" cy="215.6" r="1.3" class="rc"/>
<circle cx="448.36" cy="216.45" r="1.3" class="rc"/>
<circle cx="448.36" cy="217.3" r="1.3" class="rc"/>
<path d="M455.62 192.8V186.3M455.62 197.1V200.4M454.68 186.3H456.57M454.68 200.4H456.57M453.82 192.8H457.43V197.1H453.82Z" class="bx"/>
<path d="M453.82 195H457.43" class="md"/>
<circle cx="455.62" cy="205.1" r="1.3" class="oc"/>
<circle cx="455.62" cy="212" r="1.3" class="oc"/>
<circle cx="455.62" cy="215.4" r="1.3" class="oc"/>
<path d="M462.89 189.3V182.5M462.89 195.7V200.4M461.94 182.5H463.84M461.94 200.4H463.84M461.09 189.3H464.69V195.7H461.09Z" class="bx"/>
<path d="M461.09 192.6H464.69" class="md"/>
<circle cx="462.89" cy="206.7" r="1.3" class="rc"/>
<circle cx="462.89" cy="207.6" r="1.3" class="rc"/>
<circle cx="462.89" cy="208.5" r="1.3" class="rc"/>
<circle cx="462.89" cy="209.4" r="1.3" class="rc"/>
<circle cx="462.89" cy="210.3" r="1.3" class="rc"/>
<circle cx="462.89" cy="211.2" r="1.3" class="rc"/>
<path d="M470.17 187V179.2M470.17 195.7V205.9M469.22 179.2H471.12M469.22 205.9H471.12M468.37 187H471.97V195.7H468.37Z" class="bx"/>
<path d="M468.37 190.3H471.97" class="md"/>
<path d="M477.44 183.4V173.1M477.44 193.3V201.1M476.49 173.1H478.38M476.49 201.1H478.38M475.63 183.4H479.24V193.3H475.63Z" class="bx"/>
<path d="M475.63 187.4H479.24" class="md"/>
<path d="M484.71 180.7V168.8M484.71 189.3V197.4M483.76 168.8H485.66M483.76 197.4H485.66M482.91 180.7H486.51V189.3H482.91Z" class="bx"/>
<path d="M482.91 184.7H486.51" class="md"/>
<circle cx="484.71" cy="161.8" r="1.3" class="oc"/>
<circle cx="484.71" cy="166.4" r="1.3" class="oc"/>
<path d="M491.98 178.9V168.2M491.98 187.4V192.8M491.03 168.2H492.93M491.03 192.8H492.93M490.18 178.9H493.78V187.4H490.18Z" class="bx"/>
<path d="M490.18 184.3H493.78" class="md"/>
<circle cx="491.98" cy="164.3" r="1.3" class="rc"/>
<circle cx="491.98" cy="165.45" r="1.3" class="rc"/>
<circle cx="491.98" cy="166.6" r="1.3" class="rc"/>
<path d="M499.25 171.3V163.1M499.25 186.1V190M498.3 163.1H500.19M498.3 190H500.19M497.44 171.3H501.05V186.1H497.44Z" class="bx"/>
<path d="M497.44 177.9H501.05" class="md"/>
<path d="M506.51 172.5V163.1M506.51 183.4V187M505.56 163.1H507.46M505.56 187H507.46M504.71 172.5H508.31V183.4H504.71Z" class="bx"/>
<path d="M504.71 181.6H508.31" class="md"/>
<path d="M513.78 171.8V161.4M513.78 182.3V186.6M512.83 161.4H514.74M512.83 186.6H514.74M511.98 171.8H515.58V182.3H511.98Z" class="bx"/>
<path d="M511.98 178.7H515.58" class="md"/>
<path d="M521.06 169.5V158.7M521.06 179.3V185.3M520.11 158.7H522.01M520.11 185.3H522.01M519.26 169.5H522.86V179.3H519.26Z" class="bx"/>
<path d="M519.26 173.6H522.86" class="md"/>
<path d="M528.33 167.2V159.7M528.33 174.9V180.3M527.38 159.7H529.28M527.38 180.3H529.28M526.53 167.2H530.12V174.9H526.53Z" class="bx"/>
<path d="M526.53 172.2H530.12" class="md"/>
<path d="M535.6 166.4V159.4M535.6 174.9V179.3M534.64 159.4H536.55M534.64 179.3H536.55M533.8 166.4H537.39V174.9H533.8Z" class="bx"/>
<path d="M533.8 172.6H537.39" class="md"/>
<path d="M542.87 165.5V159.2M542.87 174V175.8M541.91 159.2H543.82M541.91 175.8H543.82M541.07 165.5H544.66V174H541.07Z" class="bx"/>
<path d="M541.07 169.2H544.66" class="md"/>
<rect x="207.5" y="320.3" width="145.3" height="108" class="fr"/>
<line x1="205.8" y1="333.5" x2="207.5" y2="333.5" class="tk"/>
<text x="204.9" y="334.95" class="yl">5</text>
<line x1="205.8" y1="352.9" x2="207.5" y2="352.9" class="tk"/>
<text x="204.9" y="354.35" class="yl">0</text>
<line x1="205.8" y1="372.3" x2="207.5" y2="372.3" class="tk"/>
<text x="204.9" y="373.75" class="yl">−5</text>
<line x1="205.8" y1="391.7" x2="207.5" y2="391.7" class="tk"/>
<text x="204.9" y="393.15" class="yl">−10</text>
<line x1="205.8" y1="411.1" x2="207.5" y2="411.1" class="tk"/>
<text x="204.9" y="412.55" class="yl">−15</text>
<line x1="211.13" y1="428.3" x2="211.13" y2="430" class="tk"/>
<text x="211.13" y="434.5" class="xl">-20</text>
<line x1="218.4" y1="428.3" x2="218.4" y2="430" class="tk"/>
<text x="218.4" y="434.5" class="xl">-19</text>
<line x1="225.66" y1="428.3" x2="225.66" y2="430" class="tk"/>
<text x="225.66" y="434.5" class="xl">-18</text>
<line x1="232.93" y1="428.3" x2="232.93" y2="430" class="tk"/>
<text x="232.93" y="434.5" class="xl">-17</text>
<line x1="240.19" y1="428.3" x2="240.19" y2="430" class="tk"/>
<text x="240.19" y="434.5" class="xl">-16</text>
<line x1="247.46" y1="428.3" x2="247.46" y2="430" class="tk"/>
<text x="247.46" y="434.5" class="xl">-15</text>
<line x1="254.72" y1="428.3" x2="254.72" y2="430" class="tk"/>
<text x="254.72" y="434.5" class="xl">-14</text>
<line x1="261.99" y1="428.3" x2="261.99" y2="430" class="tk"/>
<text x="261.99" y="434.5" class="xl">-13</text>
<line x1="269.25" y1="428.3" x2="269.25" y2="430" class="tk"/>
<text x="269.25" y="434.5" class="xl">-12</text>
<line x1="276.52" y1="428.3" x2="276.52" y2="430" class="tk"/>
<text x="276.52" y="434.5" class="xl">-11</text>
<line x1="283.78" y1="428.3" x2="283.78" y2="430" class="tk"/>
<text x="283.78" y="434.5" class="xl">-10</text>
<line x1="291.05" y1="428.3" x2="291.05" y2="430" class="tk"/>
<text x="291.05" y="434.5" class="xl">-9</text>
<line x1="298.31" y1="428.3" x2="298.31" y2="430" class="tk"/>
<text x="298.31" y="434.5" class="xl">-8</text>
<line x1="305.58" y1="428.3" x2="305.58" y2="430" class="tk"/>
<text x="305.58" y="434.5" class="xl">-7</text>
<line x1="312.84" y1="428.3" x2="312.84" y2="430" class="tk"/>
<text x="312.84" y="434.5" class="xl">-6</text>
<line x1="320.11" y1="428.3" x2="320.11" y2="430" class="tk"/>
<text x="320.11" y="434.5" class="xl">-5</text>
<line x1="327.37" y1="428.3" x2="327.37" y2="430" class="tk"/>
<text x="327.37" y="434.5" class="xl">-4</text>
<line x1="334.64" y1="428.3" x2="334.64" y2="430" class="tk"/>
<text x="334.64" y="434.5" class="xl">-3</text>
<line x1="341.9" y1="428.3" x2="341.9" y2="430" class="tk"/>
<text x="341.9" y="434.5" class="xl">-2</text>
<line x1="349.17" y1="428.3" x2="349.17" y2="430" class="tk"/>
<text x="349.17" y="434.5" class="xl">-1</text>
<text x="211.4" y="328.9" class="lb" textLength="21.4" lengthAdjust="spacingAndGlyphs">MAE(m)</text>
<text x="304.2" y="423.8" class="lb" textLength="44.0" lengthAdjust="spacingAndGlyphs">Ground Truth(m)</text>
<path d="M211.13 409.4V403.6M211.13 417.8V423.1M210.18 403.6H212.08M210.18 423.1H212.08M209.33 409.4H212.93V417.8H209.33Z" class="bx"/>
<path d="M209.33 414.4H212.93" class="md"/>
<path d="M218.4 407V406.3M218.4 410.4V412.1M217.45 406.3H219.35M217.45 412.1H219.35M216.6 407H220.2V410.4H216.6Z" class="bx"/>
<path d="M216.6 408.3H220.2" class="md"/>
<path d="M225.66 400.3V395.6M225.66 405V409M224.71 395.6H226.61M224.71 409H226.61M223.86 400.3H227.46V405H223.86Z" class="bx"/>
<path d="M223.86 402.7H227.46" class="md"/>
<circle cx="225.66" cy="411.9" r="1.3" class="oc"/>
<circle cx="225.66" cy="413.4" r="1.3" class="oc"/>
<path d="M232.93 393.3V386.8M232.93 399.3V407M231.98 386.8H233.88M231.98 407H233.88M231.13 393.3H234.73V399.3H231.13Z" class="bx"/>
<path d="M231.13 396.2H234.73" class="md"/>
<circle cx="232.93" cy="383.1" r="1.3" class="fc"/>
<path d="M240.19 391.5V384.1M240.19 399.6V407.7M239.24 384.1H241.14M239.24 407.7H241.14M238.39 391.5H241.99V399.6H238.39Z" class="bx"/>
<path d="M238.39 393.9H241.99" class="md"/>
<path d="M247.46 387.5V381.7M247.46 393.8V401.3M246.51 381.7H248.41M246.51 401.3H248.41M245.66 387.5H249.26V393.8H245.66Z" class="bx"/>
<path d="M245.66 389.9H249.26" class="md"/>
<path d="M254.72 384.1V376.7M254.72 389.8V397.6M253.77 376.7H255.67M253.77 397.6H255.67M252.92 384.1H256.52V389.8H252.92Z" class="bx"/>
<path d="M252.92 386.8H256.52" class="md"/>
<circle cx="254.72" cy="368.2" r="1.3" class="oc"/>
<circle cx="254.72" cy="373.8" r="1.3" class="fc"/>
<path d="M261.99 379.4V370.5M261.99 385.5V394.9M261.04 370.5H262.94M261.04 394.9H262.94M260.19 379.4H263.79V385.5H260.19Z" class="bx"/>
<path d="M260.19 382.5H263.79" class="md"/>
<circle cx="261.99" cy="397.3" r="1.3" class="oc"/>
<path d="M269.25 374V363.1M269.25 383.4V392.2M268.3 363.1H270.2M268.3 392.2H270.2M267.45 374H271.05V383.4H267.45Z" class="bx"/>
<path d="M267.45 378.1H271.05" class="md"/>
<path d="M276.52 374V364.4M276.52 383V389.5M275.57 364.4H277.47M275.57 389.5H277.47M274.72 374H278.32V383H274.72Z" class="bx"/>
<path d="M274.72 378.1H278.32" class="md"/>
<circle cx="276.52" cy="359" r="1.3" class="oc"/>
<circle cx="276.52" cy="361.8" r="1.3" class="oc"/>
<path d="M283.78 374.2V363.4M283.78 381.6V385M282.83 363.4H284.73M282.83 385H284.73M281.98 374.2H285.58V381.6H281.98Z" class="bx"/>
<path d="M281.98 378.2H285.58" class="md"/>
<circle cx="283.78" cy="355.2" r="1.3" class="oc"/>
<path d="M283.78 359.6V362.6" class="dc"/>
<path d="M291.05 369.4V361.4M291.05 376.5V381.3M290.1 361.4H292M290.1 381.3H292M289.25 369.4H292.85V376.5H289.25Z" class="bx"/>
<path d="M289.25 373.4H292.85" class="md"/>
<circle cx="291.05" cy="353.6" r="1.3" class="oc"/>
<circle cx="291.05" cy="358.6" r="1.3" class="oc"/>
<path d="M298.31 362.2V349M298.31 372V378.6M297.36 349H299.26M297.36 378.6H299.26M296.51 362.2H300.11V372H296.51Z" class="bx"/>
<path d="M296.51 366.3H300.11" class="md"/>
<circle cx="298.31" cy="344" r="1.3" class="oc"/>
<circle cx="298.31" cy="346.7" r="1.3" class="oc"/>
<path d="M305.58 360.2V348M305.58 370.3V377.6M304.63 348H306.53M304.63 377.6H306.53M303.78 360.2H307.38V370.3H303.78Z" class="bx"/>
<path d="M303.78 366.7H307.38" class="md"/>
<path d="M312.84 356.5V345.3M312.84 366.5V370.7M311.89 345.3H313.79M311.89 370.7H313.79M311.04 356.5H314.64V366.5H311.04Z" class="bx"/>
<path d="M311.04 364.4H314.64" class="md"/>
<circle cx="312.84" cy="338.1" r="1.3" class="oc"/>
<circle cx="312.84" cy="341" r="1.3" class="oc"/>
<path d="M320.11 358.2V350M320.11 363.8V368M319.16 350H321.06M319.16 368H321.06M318.31 358.2H321.91V363.8H318.31Z" class="bx"/>
<path d="M318.31 362.4H321.91" class="md"/>
<circle cx="320.11" cy="338.5" r="1.3" class="oc"/>
<path d="M320.11 340.6V349.3" class="dc"/>
<path d="M327.37 352.1V340.2M327.37 360.1V364.1M326.42 340.2H328.32M326.42 364.1H328.32M325.57 352.1H329.17V360.1H325.57Z" class="bx"/>
<path d="M325.57 358.5H329.17" class="md"/>
<circle cx="327.37" cy="333" r="1.3" class="oc"/>
<path d="M327.37 334.6V339" class="dc"/>
<path d="M334.64 353.6V350M334.64 357.1V361.3M333.69 350H335.59M333.69 361.3H335.59M332.84 353.6H336.44V357.1H332.84Z" class="bx"/>
<path d="M332.84 355.3H336.44" class="md"/>
<circle cx="334.64" cy="336.8" r="1.3" class="rc"/>
<circle cx="334.64" cy="338.3" r="1.3" class="rc"/>
<circle cx="334.64" cy="339.8" r="1.3" class="rc"/>
<circle cx="334.64" cy="341.3" r="1.3" class="rc"/>
<circle cx="334.64" cy="342.8" r="1.3" class="rc"/>
<circle cx="334.64" cy="344.3" r="1.3" class="rc"/>
<circle cx="334.64" cy="345.8" r="1.3" class="rc"/>
<circle cx="334.64" cy="347.3" r="1.3" class="rc"/>
<circle cx="334.64" cy="348.8" r="1.3" class="rc"/>
<path d="M341.9 351.2V350.3M341.9 353.7V354.4M340.95 350.3H342.85M340.95 354.4H342.85M340.1 351.2H343.7V353.7H340.1Z" class="bx"/>
<path d="M340.1 352.4H343.7" class="md"/>
<path d="M341.9 334.9V349.3" class="dc"/>
<path d="M341.9 354.9V361.2" class="dc"/>
<path d="M349.17 348.1V344M349.17 351.5V354.2M348.22 344H350.12M348.22 354.2H350.12M347.37 348.1H350.97V351.5H347.37Z" class="bx"/>
<path d="M347.37 350.1H350.97" class="md"/>
<circle cx="349.17" cy="324.9" r="1.3" class="oc"/>
<circle cx="349.17" cy="327.5" r="1.3" class="oc"/>
<circle cx="349.17" cy="330.3" r="1.3" class="oc"/>
<path d="M349.17 331.8V343.3" class="dc"/>
<circle cx="349.17" cy="357.3" r="1.3" class="oc"/>
<text x="2.2" y="134.9" textLength="13.2" lengthAdjust="spacingAndGlyphs" class="cp b">(a)</text>
<text x="18.2" y="134.9" textLength="36.2" lengthAdjust="spacingAndGlyphs" class="cp">Unet++</text>
<text x="196.1" y="135" textLength="12.7" lengthAdjust="spacingAndGlyphs" class="cp b">(b)</text>
<text x="213.1" y="135" textLength="47.9" lengthAdjust="spacingAndGlyphs" class="cp">RefineNet</text>
<text x="389.2" y="134.9" textLength="12.2" lengthAdjust="spacingAndGlyphs" class="cp b">(c)</text>
<text x="404.1" y="134.9" textLength="38.3" lengthAdjust="spacingAndGlyphs" class="cp">KFBNet</text>
<text x="2.2" y="285.5" textLength="13.4" lengthAdjust="spacingAndGlyphs" class="cp b">(d)</text>
<text x="28.3" y="285.5" textLength="37.3" lengthAdjust="spacingAndGlyphs" class="cp">Unet++</text>
<text x="79" y="285.5" textLength="21.3" lengthAdjust="spacingAndGlyphs" class="cp">with</text>
<text x="112.7" y="285.5" textLength="48" lengthAdjust="spacingAndGlyphs" class="cp">nonlinear</text>
<text x="2.4" y="301.5" textLength="68.8" lengthAdjust="spacingAndGlyphs" class="cp">normalization</text>
<text x="195.7" y="285.5" textLength="12.9" lengthAdjust="spacingAndGlyphs" class="cp b">(e)</text>
<text x="216.5" y="285.5" textLength="50.3" lengthAdjust="spacingAndGlyphs" class="cp">RefineNet</text>
<text x="275.5" y="285.5" textLength="21.8" lengthAdjust="spacingAndGlyphs" class="cp">with</text>
<text x="306.5" y="285.5" textLength="47.1" lengthAdjust="spacingAndGlyphs" class="cp">nonlinear</text>
<text x="196" y="301.5" textLength="68.5" lengthAdjust="spacingAndGlyphs" class="cp">normalization</text>
<text x="389.2" y="285.5" textLength="10.9" lengthAdjust="spacingAndGlyphs" class="cp b">(f)</text>
<text x="413.1" y="285.5" textLength="39.2" lengthAdjust="spacingAndGlyphs" class="cp">KFBNet</text>
<text x="465" y="285.5" textLength="22" lengthAdjust="spacingAndGlyphs" class="cp">with</text>
<text x="499.8" y="285.5" textLength="46.9" lengthAdjust="spacingAndGlyphs" class="cp">nonlinear</text>
<text x="389.7" y="301.5" textLength="68.5" lengthAdjust="spacingAndGlyphs" class="cp">normalization</text>
<text x="195.4" y="451.4" textLength="13.6" lengthAdjust="spacingAndGlyphs" class="cp b">(g)</text>
<text x="212" y="451.4" textLength="21" lengthAdjust="spacingAndGlyphs" class="cp">SVR</text>
</svg>
</body></html>
